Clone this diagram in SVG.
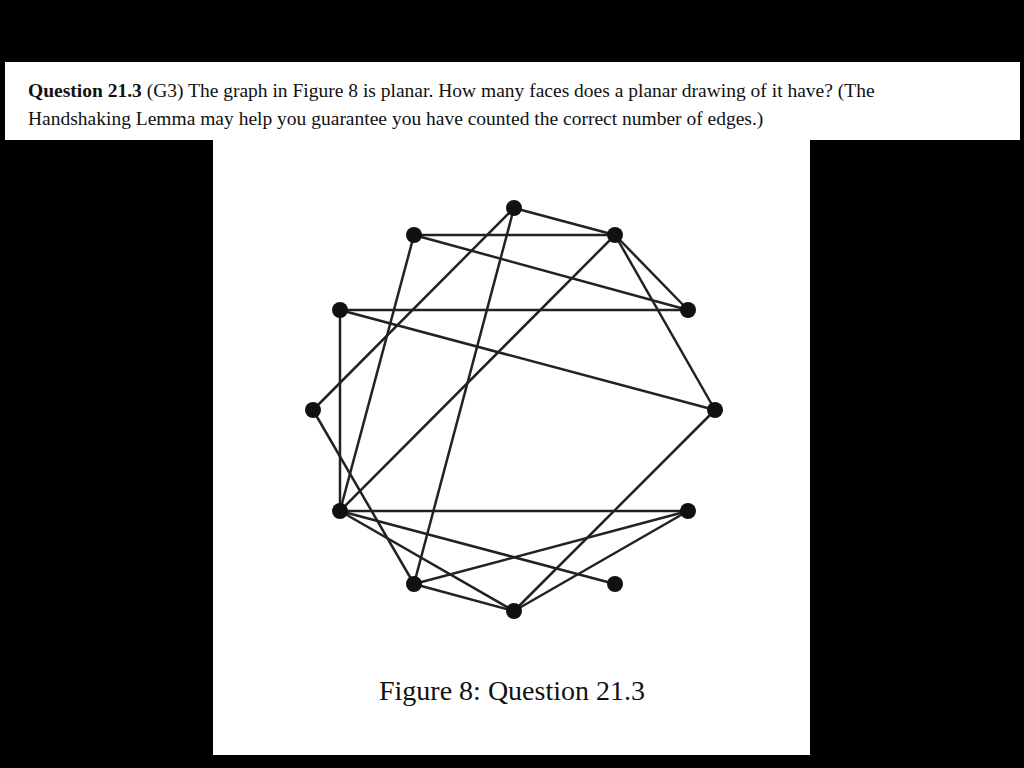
<svg xmlns="http://www.w3.org/2000/svg" width="1024" height="768" viewBox="0 0 1024 768">
<style>
.e{stroke:#222;stroke-width:2.5;fill:none}
.n{fill:#111}
.t{font-family:"Liberation Serif",serif;fill:#111}
</style>
<rect width="1024" height="768" fill="#000"/>
<rect x="5" y="62" width="1015" height="78" fill="#fff"/>
<rect x="213" y="140" width="597" height="615" fill="#fff"/>
<text class="t" x="28" y="97" font-size="19.5"><tspan font-weight="bold">Question 21.3</tspan> (G3) The graph in Figure 8 is planar. How many faces does a planar drawing of it have? (The</text>
<text class="t" x="28" y="125" font-size="19.5">Handshaking Lemma may help you guarantee you have counted the correct number of edges.)</text>
<g id="edges">
<line class="e" x1="514" y1="208" x2="615" y2="235"/>
<line class="e" x1="514" y1="208" x2="313" y2="410"/>
<line class="e" x1="514" y1="208" x2="414" y2="584"/>
<line class="e" x1="414" y1="235" x2="615" y2="235"/>
<line class="e" x1="414" y1="235" x2="688" y2="310"/>
<line class="e" x1="414" y1="235" x2="340" y2="511"/>
<line class="e" x1="615" y1="235" x2="340" y2="511"/>
<line class="e" x1="615" y1="235" x2="688" y2="310"/>
<line class="e" x1="615" y1="235" x2="715" y2="410"/>
<line class="e" x1="340" y1="310" x2="688" y2="310"/>
<line class="e" x1="340" y1="310" x2="715" y2="410"/>
<line class="e" x1="340" y1="310" x2="340" y2="511"/>
<line class="e" x1="313" y1="410" x2="414" y2="584"/>
<line class="e" x1="340" y1="511" x2="688" y2="511"/>
<line class="e" x1="340" y1="511" x2="514" y2="611"/>
<line class="e" x1="340" y1="511" x2="615" y2="584"/>
<line class="e" x1="414" y1="584" x2="688" y2="511"/>
<line class="e" x1="414" y1="584" x2="514" y2="611"/>
<line class="e" x1="715" y1="410" x2="514" y2="611"/>
<line class="e" x1="688" y1="511" x2="514" y2="611"/>
</g>
<g id="nA"><circle class="n" cx="514" cy="208" r="8"/></g>
<g id="nB"><circle class="n" cx="414" cy="235" r="8"/></g>
<g id="nC"><circle class="n" cx="615" cy="235" r="8"/></g>
<g id="nD"><circle class="n" cx="340" cy="310" r="8"/></g>
<g id="nE"><circle class="n" cx="688" cy="310" r="8"/></g>
<g id="nF"><circle class="n" cx="313" cy="410" r="8"/></g>
<g id="nG"><circle class="n" cx="715" cy="410" r="8"/></g>
<g id="nH"><circle class="n" cx="340" cy="511" r="8"/></g>
<g id="nI"><circle class="n" cx="688" cy="511" r="8"/></g>
<g id="nJ"><circle class="n" cx="414" cy="584" r="8"/></g>
<g id="nK"><circle class="n" cx="514" cy="611" r="8"/></g>
<g id="nL"><circle class="n" cx="615" cy="584" r="8"/></g>
<text class="t" x="512" y="700" font-size="28" text-anchor="middle">Figure 8:  Question 21.3</text>
</svg>
